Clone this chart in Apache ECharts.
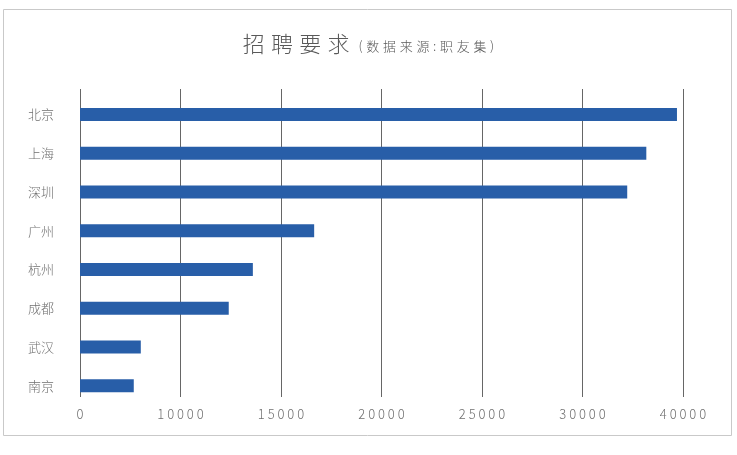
<!DOCTYPE html>
<html>
<head>
<meta charset="utf-8">
<script src="https://cdn.jsdelivr.net/npm/echarts@6/dist/echarts.min.js"></script>
<style>
html,body{margin:0;padding:0;background:#fff;}
#chart{width:737px;height:455px;}
</style>
</head>
<body>
<div id="chart"></div>
<script>
// ---- data ----
var categories = ['北京', '上海', '深圳', '广州', '杭州', '成都', '武汉', '南京'];
var values = [39400, 36350, 34450, 16650, 13600, 12400, 6050, 5350];
var tickValues = [0, 10000, 15000, 20000, 25000, 30000, 40000];
var tickLabels = ['0', '10000', '15000', '20000', '25000', '30000', '40000'];
var titleMain = '招聘要求';
var titleSub = '(数据来源:职友集)';

// the reference axis places its (uneven) tick values at equal distances;
// map each value onto that piecewise axis
function toAxis(v) {
  for (var i = 0; i < tickValues.length - 1; i++) {
    if (v <= tickValues[i + 1]) {
      return i + (v - tickValues[i]) / (tickValues[i + 1] - tickValues[i]);
    }
  }
  return tickValues.length - 1;
}
function spaced(s, sep) { return s.split('').join(sep); }

var chart = echarts.init(document.getElementById('chart'), null, {renderer: 'canvas'});
var FONT = '"Noto Sans CJK SC", "Noto Sans", sans-serif';
chart.setOption({
  backgroundColor: '#fff',
  animation: false,
  title: {
    left: 'center',
    top: 28,
    text: '{a|' + spaced(titleMain, ' \u200a') + '}{b|' + spaced(titleSub, ' \u200a') + '}',
    textStyle: {
      fontWeight: 'normal',
      rich: {
        a: {fontFamily: FONT, fontSize: 22, fontWeight: 300, color: '#595959', verticalAlign: 'bottom'},
        b: {fontFamily: FONT, fontSize: 13, fontWeight: 300, color: '#595959', verticalAlign: 'bottom', padding: [0, 0, 2, 9]}
      }
    }
  },
  graphic: [{
    type: 'rect',
    shape: {x: 3.5, y: 9.5, width: 728, height: 426},
    style: {fill: 'none', stroke: '#c9c9c9', lineWidth: 1},
    silent: true,
    z: -1
  }],
  grid: [
    {left: 80, width: 603, top: 95, height: 310, containLabel: false},
    {left: 80, width: 603, top: 89, height: 308, containLabel: false}
  ],
  xAxis: [
    {gridIndex: 0, type: 'value', min: 0, max: tickValues.length - 1, interval: 1,
     show: false, splitLine: {show: false}},
    {gridIndex: 1, type: 'value', min: 0, max: tickValues.length - 1, interval: 1,
     axisLine: {show: false}, axisTick: {show: false},
     splitLine: {show: true, lineStyle: {color: '#666666', width: 1}},
     axisLabel: {
       margin: 11,
       fontFamily: FONT, fontSize: 13, fontWeight: 300, color: '#707070',
       formatter: function (v) { return spaced(tickLabels[v] || '', ' '); }
     }}
  ],
  yAxis: [
    {gridIndex: 0, type: 'category', data: categories, inverse: true,
     axisLine: {show: false}, axisTick: {show: false}, splitLine: {show: false},
     axisLabel: {margin: 26, fontFamily: FONT, fontSize: 13, fontWeight: 300, color: '#707070'}},
    {gridIndex: 1, type: 'value', show: false, splitLine: {show: false}}
  ],
  series: [{
    type: 'bar',
    xAxisIndex: 0, yAxisIndex: 0,
    barWidth: 13,
    itemStyle: {color: '#285ea8'},
    data: values.map(toAxis)
  }]
});
</script>
</body>
</html>
